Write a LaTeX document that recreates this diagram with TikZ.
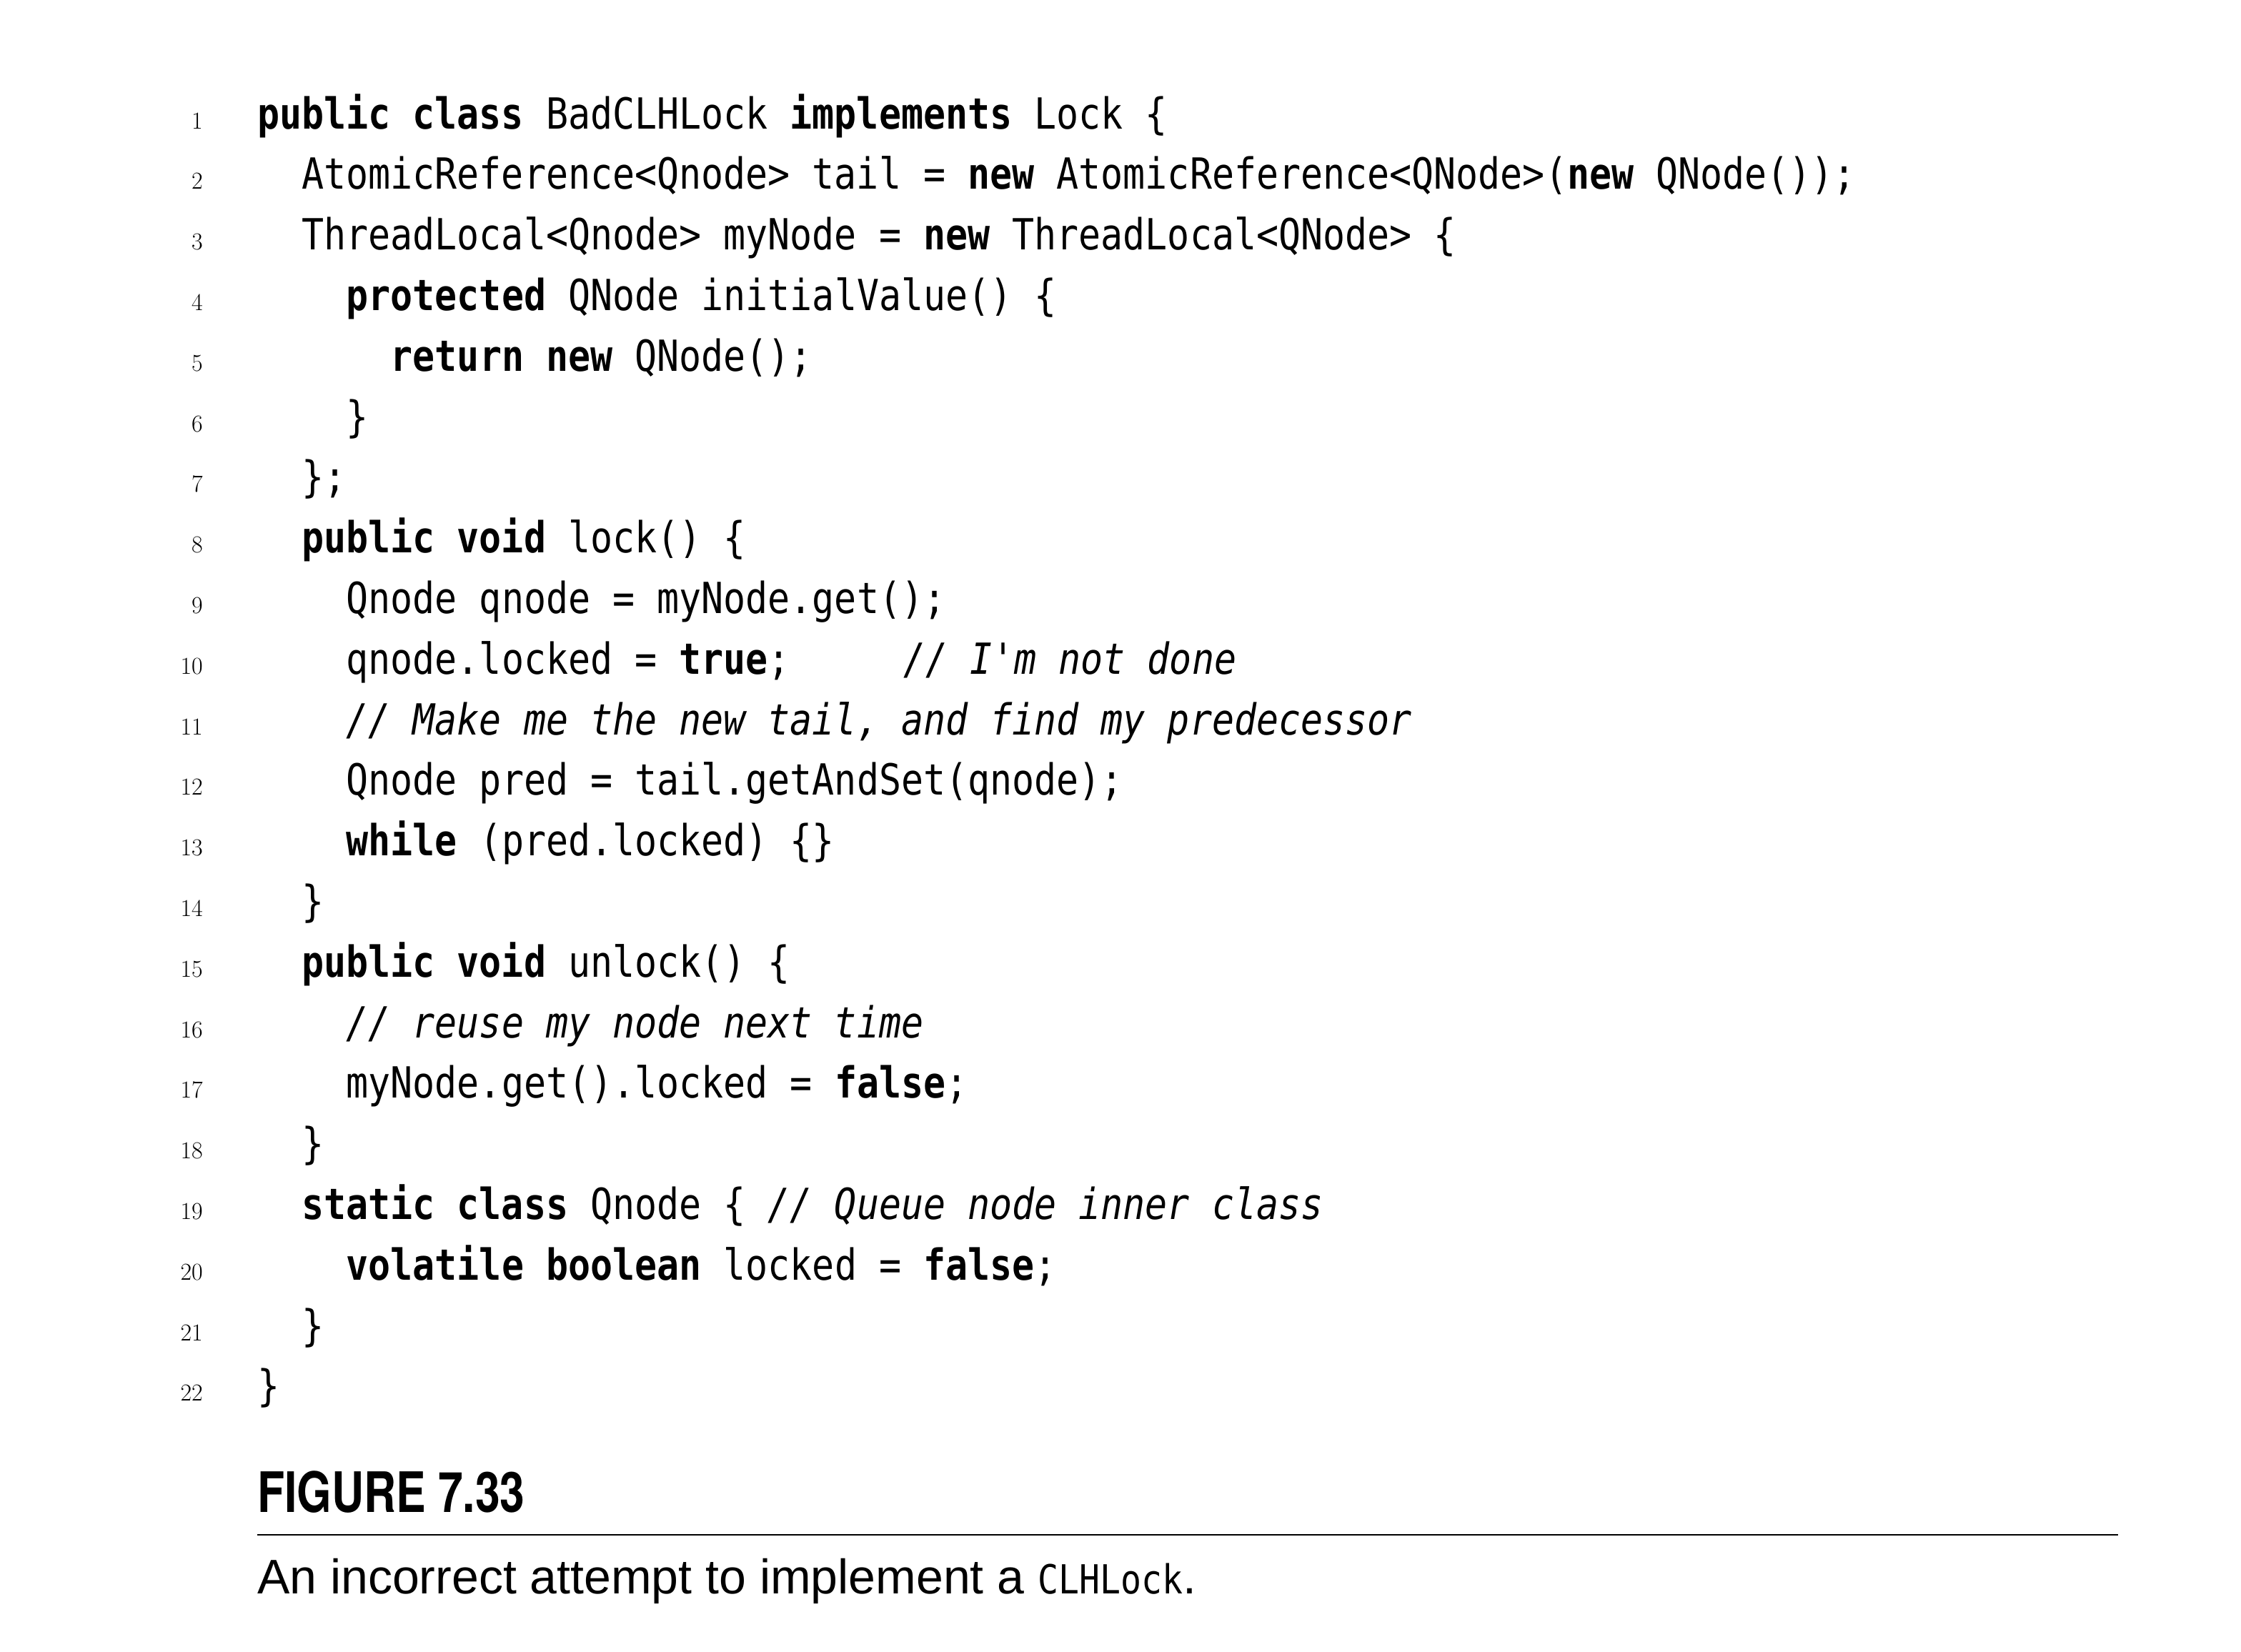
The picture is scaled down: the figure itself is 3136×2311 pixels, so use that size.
\documentclass[tikz,border=0pt]{standalone}
\usepackage{fontspec}
\newfontfamily\codef[FakeStretch=0.86]{DejaVu Sans Mono}
\newfontfamily\capf{Liberation Sans}
\newfontfamily\figf[FakeStretch=0.8]{TeX Gyre Heros}
\begin{document}
\begin{tikzpicture}[x=1pt,y=-1pt,
  code/.style={anchor=base west,inner sep=0,font=\codef\fontsize{60}{60}\selectfont},
  num/.style={anchor=base east,inner sep=0,font=\fontsize{34}{34}\selectfont}]
\useasboundingbox (0,0) rectangle (3136,2311);
\fill[white] (0,0) rectangle (3136,2311);
\def\cw{31.1}
\newcommand\cl[3]{%
  \node[num] (n#1) at (284,{180+(#1-1)*84.8}) {#1};
  \node[code] (c#1) at ({360+#2*\cw},{180+(#1-1)*84.8}) {#3};}
\cl{1}{0}{\textbf{public class} BadCLHLock \textbf{implements} Lock \{}
\cl{2}{2}{AtomicReference<Qnode> tail = \textbf{new} AtomicReference<QNode>(\textbf{new} QNode());}
\cl{3}{2}{ThreadLocal<Qnode> myNode = \textbf{new} ThreadLocal<QNode> \{}
\cl{4}{4}{\textbf{protected} QNode initialValue() \{}
\cl{5}{6}{\textbf{return new} QNode();}
\cl{6}{4}{\}}
\cl{7}{2}{\};}
\cl{8}{2}{\textbf{public void} lock() \{}
\cl{9}{4}{Qnode qnode = myNode.get();}
\cl{10}{4}{qnode.locked = \textbf{true};}
\node[code] (k10) at (1264,{180+9*84.8}) {\itshape // I'm not done};
\cl{11}{4}{\itshape // Make me the new tail, and find my predecessor}
\cl{12}{4}{Qnode pred = tail.getAndSet(qnode);}
\cl{13}{4}{\textbf{while} (pred.locked) \{\}}
\cl{14}{2}{\}}
\cl{15}{2}{\textbf{public void} unlock() \{}
\cl{16}{4}{\itshape // reuse my node next time}
\cl{17}{4}{myNode.get().locked = \textbf{false};}
\cl{18}{2}{\}}
\cl{19}{2}{\textbf{static class} Qnode \{ \textit{// Queue node inner class}}
\cl{20}{4}{\textbf{volatile boolean} locked = \textbf{false};}
\cl{21}{2}{\}}
\cl{22}{0}{\}}
\node[anchor=base west,inner sep=0,font=\figf\bfseries\fontsize{78}{78}\selectfont] (fig) at (360,2116) {FIGURE 7.33};
\draw[line width=2.5] (360,2148) -- (2964,2148);
\node[anchor=base west,inner sep=0,font=\capf\fontsize{68}{68}\selectfont] (cap) at (360,2230) {An incorrect attempt to implement a {\codef\fontsize{56}{56}\selectfont CLHLock}.};
\end{tikzpicture}
\end{document}
